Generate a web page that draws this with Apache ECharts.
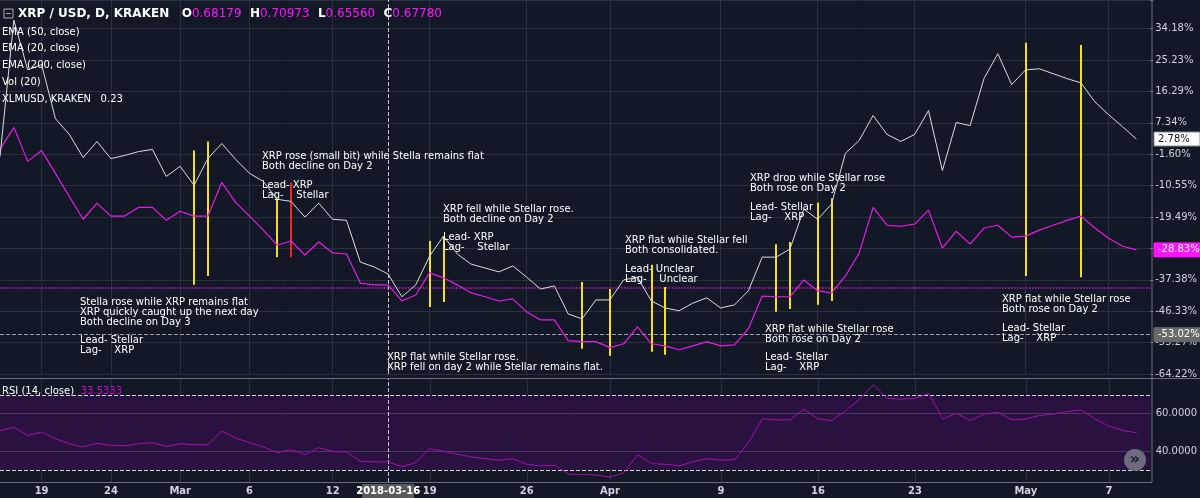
<!DOCTYPE html>
<html><head><meta charset="utf-8">
<script src="https://cdn.jsdelivr.net/npm/echarts@6/dist/echarts.min.js"></script>
<style>html,body{margin:0;padding:0;background:#131826;}#c{width:1200px;height:498px;}</style>
</head><body><div id="c"></div>
<script>
// ---- data ----
const startDate = '2018-02-16';
const nDays = 84; // Feb 16 .. May 10
const xrpPct = [-2.2,36.7,22.5,24.0,8.6,4.1,-2.5,2.1,-2.8,-1.9,-0.8,-0.2,-7.9,-5.0,-10.4,-2.8,1.5,-3.0,-7.0,-9.3,-14.4,-15.0,-19.5,-15.5,-20.1,-20.4,-32.3,-33.7,-35.7,-42.2,-38.8,-30.6,-24.9,-30.0,-32.9,-34.0,-35.1,-33.4,-36.6,-40.0,-39.1,-47.1,-48.5,-43.1,-43.1,-37.4,-36.6,-43.4,-45.4,-46.2,-44.0,-42.5,-45.4,-44.5,-40.5,-30.9,-30.9,-28.6,-17.2,-20.1,-15.8,-1.3,2.4,9.5,4.1,2.1,4.1,10.9,-6.2,7.5,6.6,20.0,27.1,18.3,22.5,22.8,21.4,20.0,18.8,13.4,9.7,6.3,2.78];
const xlmPct = [-0.2,6.1,-3.6,-0.5,-7.0,-13.6,-20.1,-15.5,-19.2,-19.2,-16.7,-16.7,-20.4,-17.8,-19.2,-19.2,-9.6,-15.3,-19.2,-23.2,-27.5,-26.3,-30.3,-26.6,-29.7,-30.0,-38.3,-38.8,-38.8,-43.4,-41.7,-35.4,-36.8,-38.8,-41.1,-42.2,-43.4,-42.8,-46.5,-48.8,-48.8,-54.7,-55.0,-55.0,-56.7,-55.6,-50.8,-55.6,-56.2,-57.3,-56.2,-55.0,-56.2,-55.9,-51.3,-42.0,-42.2,-42.2,-37.4,-40.5,-41.1,-36.3,-29.7,-16.7,-21.8,-22.1,-21.5,-17.5,-28.3,-23.5,-27.2,-22.6,-21.8,-25.2,-24.9,-23.2,-21.8,-20.4,-19.2,-22.6,-25.5,-27.8,-28.83];
const rsi = [51.0,52.8,48.4,50.2,46.7,44.0,42.3,44.2,43.2,42.9,44.0,44.6,42.6,44.0,43.5,43.5,50.7,47.0,44.6,42.3,39.3,40.9,38.2,41.9,39.9,39.6,34.7,34.4,34.4,31.8,34.0,41.4,40.0,38.4,37.0,36.1,35.3,36.1,33.1,32.3,32.6,27.9,27.7,27.4,26.3,28.6,38.2,33.5,33.1,32.3,34.4,36.1,35.3,35.6,44.9,57.2,56.7,56.7,62.5,57.2,56.3,61.6,67.7,75.3,68.1,67.7,68.1,70.7,57.2,60.2,56.3,59.8,60.7,56.7,57.2,59.0,59.8,61.1,62.0,57.2,53.3,51.1,49.8];
const priceTicks = ['-64.22%','-55.27%','-46.33%','-37.38%','-28.43%','-19.49%','-10.55%','-1.60%','7.34%','16.29%','25.23%','34.18%'];
const rsiTicks = [40, 60];
const labelDays = {3:'19',8:'24',13:'Mar',18:'6',24:'12',28:'2018-03-16',31:'19',38:'26',44:'Apr',52:'9',59:'16',66:'23',74:'May',80:'7'};
const gridDays = [3,8,13,18,24,31,38,44,52,59,66,74,80];
const crossDay = 28, crossPct = -53.02, stellarRef = -39.7;
// annotation bars: [dayIndex, low%, high%, kind]
const bars = [[14,-38.8,-0.5,'y'],[15,-36.3,2.1,'y'],[20,-30.9,-14.4,'y'],[21,-30.9,-9.6,'r'],
 [31,-45.1,-26.3,'y'],[32,-43.7,-24.9,'y'],[42,-57.0,-38.0,'y'],[44,-59.0,-40.0,'y'],
 [47,-57.9,-33.1,'y'],[48,-58.7,-39.4,'y'],[56,-46.5,-27.2,'y'],[57,-45.7,-26.6,'y'],
 [59,-44.5,-15.3,'y'],[60,-43.4,-14.1,'y'],[74,-36.3,30.2,'y'],[78,-36.6,29.6,'y']];
const notes = [
 [262,151,'XRP rose (small bit) while Stella remains flat\nBoth decline on Day 2'],
 [262,180,'Lead- XRP\nLag-    Stellar'],
 [443,204,'XRP fell while Stellar rose.\nBoth decline on Day 2'],
 [443,232,'Lead- XRP\nLag-    Stellar'],
 [625,235,'XRP flat while Stellar fell\nBoth consolidated.'],
 [625,264,'Lead- Unclear\nLag-    Unclear'],
 [750,173,'XRP drop while Stellar rose\nBoth rose on Day 2'],
 [750,202,'Lead- Stellar\nLag-    XRP'],
 [80,297,'Stella rose while XRP remains flat\nXRP quickly caught up the next day\nBoth decline on Day 3'],
 [80,335,'Lead- Stellar\nLag-    XRP'],
 [387,352,'XRP flat while Stellar rose.\nXRP fell on day 2 while Stellar remains flat.'],
 [765,324,'XRP flat while Stellar rose\nBoth rose on Day 2'],
 [765,352,'Lead- Stellar\nLag-    XRP'],
 [1002,294,'XRP flat while Stellar rose\nBoth rose on Day 2'],
 [1002,323,'Lead- Stellar\nLag-    XRP']
];
// ---- build ----
const dates = [];
{ const d0 = new Date(startDate+'T00:00:00Z'); for (let i=0;i<nDays;i++){ const d=new Date(d0.getTime()+i*86400000); dates.push(d.toISOString().slice(0,10)); } }
const F = 'DejaVu Sans';
const gridColor = '#2a3040';
const chart = echarts.init(document.getElementById('c'));
const splitFn = (i)=>gridDays.includes(i);
const barLines = bars.map(b=>[{coord:[b[0],b[1]],lineStyle:{color:b[3]==='r'?'#ff1d1d':'#f4e01c',width:2,type:'solid'}},{coord:[b[0],b[2]]}]);
const graphics = [];
notes.forEach(n=>graphics.push({type:'text',x:n[0],y:n[1],z:50,style:{text:n[2],fill:'#ffffff',font:'10px '+F,lineHeight:10}}));
graphics.push({type:'rect',shape:{x:4,y:9,width:9,height:9},style:{fill:'none',stroke:'#aaa',lineWidth:1},z:50});
graphics.push({type:'line',shape:{x1:6,y1:13.5,x2:11,y2:13.5},style:{stroke:'#aaa'},z:50});
graphics.push({type:'text',x:18,y:8,z:50,style:{rich:{w:{fill:'#fff',font:'bold 12px '+F},m:{fill:'#ff14ff',font:'12px '+F}},text:'{w|XRP / USD, D, KRAKEN   O}{m|0.68179}{w|  H}{m|0.70973}{w|  L}{m|0.65560}{w|  C}{m|0.67780}'}});
['EMA (50, close)','EMA (20, close)','EMA (200, close)','Vol (20)'].forEach((t,i)=>graphics.push({type:'text',x:2,y:27+i*16.7,z:50,style:{text:t,fill:'#fff',font:'10px '+F}}));
graphics.push({type:'text',x:2,y:94,z:50,style:{text:'XLMUSD, KRAKEN   0.23',fill:'#fff',font:'10px '+F}});
graphics.push({type:'text',x:2,y:385,z:50,style:{rich:{w:{fill:'#fff',font:'10px '+F},m:{fill:'#c010c8',font:'10px '+F}},text:'{w|RSI (14, close)}  {m|33.5333}'}});
graphics.push({type:'line',shape:{x1:1152,y1:0,x2:1152,y2:482},style:{stroke:'#6a6f80',lineWidth:1},z:40});
graphics.push({type:'line',shape:{x1:0,y1:378.5,x2:1200,y2:378.5},style:{stroke:'#6a6f80',lineWidth:1},z:40});
graphics.push({type:'line',shape:{x1:0,y1:482.5,x2:1152,y2:482.5},style:{stroke:'#6a6f80',lineWidth:1},z:40});
graphics.push({type:'circle',shape:{cx:1135,cy:460,r:11},style:{fill:'#6e6b7e'},z:50});
graphics.push({type:'text',x:1135,y:460,z:51,style:{text:'»',fill:'#1a1a2a',font:'bold 16px '+F,align:'center',verticalAlign:'middle'}});

chart.setOption({
  backgroundColor:'#131826',
  animation:false,
  grid:[{left:-5,right:43,top:0,bottom:124},{left:-5,right:43,top:379,bottom:16}],
  xAxis:[
    {type:'category',gridIndex:0,data:dates,boundaryGap:false,axisLine:{show:false},axisTick:{show:false},axisLabel:{show:false},
     splitLine:{show:true,interval:splitFn,lineStyle:{color:gridColor}}},
    {type:'category',gridIndex:1,data:dates,boundaryGap:false,axisLine:{show:false},axisTick:{show:false},
     axisLabel:{interval:(i)=>labelDays[i]!==undefined,formatter:(v,i)=>labelDays[i]||'',color:'#d0d3dc',fontFamily:F,fontSize:10,fontWeight:'bold',margin:4},
     splitLine:{show:true,interval:splitFn,lineStyle:{color:gridColor}}}
  ],
  yAxis:[
    {type:'value',gridIndex:0,position:'right',min:-64.22,max:42.42,interval:8.95,axisLine:{show:false},axisTick:{show:true,length:3,lineStyle:{color:'#888'}},
     axisLabel:{color:'#d0d3dc',fontFamily:F,fontSize:10,margin:5,formatter:(v)=>{const k=Math.round((v+64.22)/8.95);return Math.abs(v-(-64.22+k*8.95))<0.01&&priceTicks[k]?priceTicks[k]:'';}},
     splitLine:{lineStyle:{color:gridColor}}},
    {type:'value',gridIndex:1,position:'right',min:23.7,max:78.4,axisLine:{show:false},axisTick:{show:false},
     axisLabel:{color:'#d0d3dc',fontFamily:F,fontSize:10,margin:5,customValues:rsiTicks,formatter:(v)=>v.toFixed(4)},
     splitLine:{show:false}}
  ],
  series:[
    {type:'line',xAxisIndex:0,yAxisIndex:0,data:xlmPct,symbol:'none',lineStyle:{color:'#e81ce8',width:1.2},z:5,
     markLine:{silent:true,symbol:'none',label:{show:false},data:[
       {yAxis:stellarRef,lineStyle:{color:'#d516d5',type:'dotted',width:1.5}},
       {yAxis:crossPct,lineStyle:{color:'#9aa0aa',type:'dashed',width:1}},
       {xAxis:crossDay,lineStyle:{color:'#c8c8c8',type:'dashed',width:1}}]}},
    {type:'line',xAxisIndex:0,yAxisIndex:0,data:xrpPct,symbol:'none',lineStyle:{color:'#dcdcdc',width:1},z:6,
     markLine:{silent:true,symbol:'none',label:{show:false},data:barLines}},
    {type:'line',xAxisIndex:1,yAxisIndex:1,data:rsi,symbol:'none',lineStyle:{color:'#a40fb0',width:1},z:5,
     markArea:{silent:true,itemStyle:{color:'#2a1240'},data:[[{yAxis:30},{yAxis:70}]]},
     markLine:{silent:true,symbol:'none',label:{show:false},data:[
       {yAxis:70,lineStyle:{color:'#d8d8d8',type:'dashed',width:1}},
       {yAxis:30,lineStyle:{color:'#d8d8d8',type:'dashed',width:1}},
       {yAxis:60,lineStyle:{color:'#4a3a60',type:'solid',width:1}},
       {yAxis:40,lineStyle:{color:'#4a3a60',type:'solid',width:1}},
       {xAxis:crossDay,lineStyle:{color:'#c8c8c8',type:'dashed',width:1}}]}}
  ],
  graphic:graphics
});
function box(val,txt,bg,fg){ const y=chart.convertToPixel({yAxisIndex:0},val); return [
  {type:'rect',shape:{x:1154,y:y-7,width:46,height:14},style:{fill:bg,stroke:bg==='#ffffff'?'#888':bg},z:60},
  {type:'text',x:1158,y:y,style:{text:txt,fill:fg,font:'10px '+F,verticalAlign:'middle'},z:61}];}
const xc = chart.convertToPixel({xAxisIndex:1},crossDay);
const extra = [].concat(box(xrpPct[xrpPct.length-1],'2.78%','#ffffff','#111'),box(xlmPct[xlmPct.length-1],'-28.83%','#ff14ff','#fff'),box(crossPct,'-53.02%','#6a6a6a','#fff'),
 [{type:'rect',shape:{x:xc-26,y:484,width:52,height:14},style:{fill:'#5a5a5a'},z:60},
  {type:'text',x:xc,y:491,style:{text:'2018-03-16',fill:'#fff',font:'bold 10px '+F,align:'center',verticalAlign:'middle'},z:61}]);
chart.setOption({graphic:graphics.concat(extra)});
</script></body></html>
